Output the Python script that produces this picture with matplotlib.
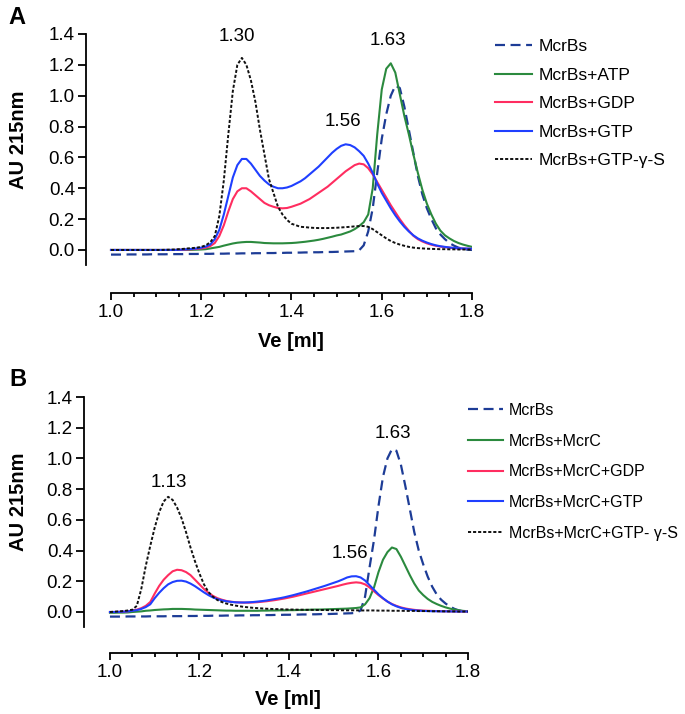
import numpy as np
import matplotlib
matplotlib.use("Agg")
import matplotlib.pyplot as plt
from matplotlib.ticker import FixedLocator, FormatStrFormatter

plt.rcParams['font.family'] = ['Liberation Sans', 'DejaVu Sans']

# elution volume grid (ml), step 0.01 from 1.00 to 1.80
ve = np.round(np.arange(1.00, 1.805, 0.01), 2)

# ---- panel A ----
a_mcrbs = [-0.030, -0.030, -0.030, -0.030, -0.029, -0.029, -0.029, -0.029, -0.029, -0.028,
           -0.028, -0.028, -0.028, -0.027, -0.027, -0.027, -0.027, -0.026, -0.026, -0.026,
           -0.025, -0.025, -0.025, -0.024, -0.024, -0.024, -0.023, -0.023, -0.023, -0.022,
           -0.022, -0.022, -0.021, -0.021, -0.020, -0.020, -0.020, -0.019, -0.019, -0.018,
           -0.018, -0.017, -0.017, -0.016, -0.016, -0.015, -0.015, -0.014, -0.013, -0.013,
           -0.012, -0.011, -0.010, -0.009, -0.008, -0.002, 0.030, 0.120, 0.270, 0.500,
           0.720, 0.880, 1.000, 1.065, 1.050, 0.930, 0.780, 0.630, 0.480, 0.360,
           0.270, 0.200, 0.140, 0.100, 0.070, 0.045, 0.028, 0.015, 0.007, 0.002,
           0.000]
a_atp = [0.000, 0.000, 0.000, 0.000, 0.000, 0.000, 0.000, 0.000, 0.000, 0.000,
         0.000, 0.000, 0.000, 0.000, 0.000, 0.000, 0.000, 0.000, 0.001, 0.002,
         0.003, 0.005, 0.010, 0.015, 0.020, 0.028, 0.035, 0.042, 0.047, 0.050,
         0.052, 0.052, 0.050, 0.048, 0.045, 0.044, 0.043, 0.043, 0.043, 0.044,
         0.045, 0.047, 0.050, 0.053, 0.057, 0.061, 0.066, 0.072, 0.079, 0.086,
         0.094, 0.100, 0.110, 0.120, 0.135, 0.155, 0.180, 0.230, 0.400, 0.750,
         1.040, 1.175, 1.210, 1.150, 1.010, 0.870, 0.750, 0.620, 0.500, 0.390,
         0.300, 0.230, 0.170, 0.125, 0.095, 0.075, 0.058, 0.045, 0.035, 0.027,
         0.020]
a_gdp = [0.000, 0.000, 0.000, 0.000, 0.000, 0.000, 0.000, 0.000, 0.000, 0.000,
         0.000, 0.000, 0.000, 0.000, 0.000, 0.001, 0.002, 0.003, 0.005, 0.007,
         0.010, 0.015, 0.025, 0.045, 0.090, 0.160, 0.250, 0.330, 0.380, 0.400,
         0.400, 0.380, 0.355, 0.330, 0.305, 0.290, 0.280, 0.272, 0.270, 0.272,
         0.280, 0.290, 0.300, 0.315, 0.330, 0.350, 0.370, 0.390, 0.410, 0.435,
         0.460, 0.485, 0.510, 0.530, 0.550, 0.560, 0.555, 0.530, 0.490, 0.440,
         0.390, 0.340, 0.290, 0.245, 0.200, 0.160, 0.125, 0.092, 0.070, 0.055,
         0.043, 0.034, 0.027, 0.022, 0.018, 0.015, 0.012, 0.010, 0.009, 0.008,
         0.007]
a_gtp = [0.000, 0.000, 0.000, 0.000, 0.000, 0.000, 0.000, 0.000, 0.000, 0.000,
         0.000, 0.000, 0.000, 0.000, 0.000, 0.001, 0.003, 0.005, 0.007, 0.010,
         0.015, 0.022, 0.035, 0.070, 0.130, 0.230, 0.350, 0.470, 0.550, 0.590,
         0.590, 0.560, 0.520, 0.480, 0.450, 0.425, 0.410, 0.400, 0.400, 0.405,
         0.415, 0.430, 0.445, 0.465, 0.490, 0.515, 0.540, 0.570, 0.600, 0.630,
         0.655, 0.675, 0.685, 0.680, 0.665, 0.640, 0.610, 0.560, 0.500, 0.430,
         0.370, 0.320, 0.270, 0.225, 0.185, 0.150, 0.120, 0.095, 0.075, 0.060,
         0.048, 0.038, 0.030, 0.024, 0.020, 0.016, 0.013, 0.011, 0.010, 0.009,
         0.008]
a_gtpgs = [0.000, 0.000, 0.000, 0.000, 0.000, 0.000, 0.000, 0.000, 0.000, 0.000,
           0.000, 0.000, 0.001, 0.002, 0.003, 0.005, 0.007, 0.010, 0.012, 0.015,
           0.020, 0.030, 0.050, 0.090, 0.220, 0.450, 0.750, 1.030, 1.200, 1.245,
           1.200, 1.100, 0.960, 0.780, 0.620, 0.460, 0.370, 0.280, 0.230, 0.195,
           0.170, 0.160, 0.150, 0.148, 0.145, 0.143, 0.142, 0.142, 0.142, 0.143,
           0.144, 0.146, 0.148, 0.150, 0.153, 0.155, 0.155, 0.150, 0.135, 0.115,
           0.095, 0.075, 0.058, 0.045, 0.035, 0.027, 0.020, 0.015, 0.012, 0.010,
           0.008, 0.007, 0.006, 0.005, 0.005, 0.004, 0.004, 0.003, 0.003, 0.003,
           0.003]

# ---- panel B ----
b_mcrbs = [-0.030, -0.030, -0.030, -0.030, -0.029, -0.029, -0.029, -0.029, -0.029, -0.028,
           -0.028, -0.028, -0.028, -0.027, -0.027, -0.027, -0.027, -0.026, -0.026, -0.026,
           -0.025, -0.025, -0.025, -0.024, -0.024, -0.024, -0.023, -0.023, -0.023, -0.022,
           -0.022, -0.022, -0.021, -0.021, -0.020, -0.020, -0.020, -0.019, -0.019, -0.018,
           -0.018, -0.017, -0.017, -0.016, -0.016, -0.015, -0.015, -0.014, -0.013, -0.013,
           -0.012, -0.011, -0.010, -0.009, -0.008, -0.005, 0.010, 0.100, 0.290, 0.470,
           0.690, 0.880, 1.000, 1.060, 1.050, 0.960, 0.820, 0.670, 0.520, 0.400,
           0.310, 0.230, 0.165, 0.115, 0.080, 0.055, 0.035, 0.020, 0.010, 0.004,
           0.000]
b_mcrc = [-0.005, -0.005, -0.004, -0.004, -0.003, 0.000, 0.002, 0.004, 0.008, 0.010,
          0.013, 0.015, 0.017, 0.018, 0.020, 0.020, 0.020, 0.019, 0.018, 0.016,
          0.015, 0.014, 0.013, 0.012, 0.011, 0.010, 0.009, 0.009, 0.008, 0.008,
          0.008, 0.008, 0.008, 0.008, 0.009, 0.009, 0.010, 0.010, 0.011, 0.011,
          0.012, 0.012, 0.013, 0.013, 0.014, 0.015, 0.016, 0.016, 0.017, 0.018,
          0.019, 0.020, 0.021, 0.022, 0.024, 0.026, 0.030, 0.050, 0.090, 0.160,
          0.260, 0.340, 0.390, 0.420, 0.410, 0.360, 0.300, 0.240, 0.185, 0.140,
          0.110, 0.085, 0.066, 0.052, 0.040, 0.030, 0.022, 0.016, 0.011, 0.007,
          0.005]
b_gdp = [0.000, 0.000, 0.001, 0.002, 0.004, 0.010, 0.015, 0.025, 0.040, 0.065,
         0.120, 0.170, 0.210, 0.240, 0.265, 0.275, 0.272, 0.260, 0.240, 0.210,
         0.180, 0.150, 0.125, 0.105, 0.090, 0.080, 0.072, 0.067, 0.064, 0.062,
         0.061, 0.061, 0.062, 0.064, 0.067, 0.070, 0.074, 0.078, 0.083, 0.088,
         0.094, 0.100, 0.107, 0.114, 0.121, 0.128, 0.135, 0.142, 0.149, 0.156,
         0.163, 0.170, 0.178, 0.185, 0.190, 0.193, 0.190, 0.180, 0.160, 0.135,
         0.110, 0.088, 0.068, 0.052, 0.040, 0.030, 0.023, 0.018, 0.014, 0.011,
         0.009, 0.008, 0.007, 0.006, 0.005, 0.005, 0.004, 0.004, 0.003, 0.003,
         0.003]
b_gtp = [0.000, 0.000, 0.001, 0.002, 0.004, 0.008, 0.012, 0.020, 0.032, 0.050,
         0.090, 0.125, 0.155, 0.180, 0.195, 0.203, 0.204, 0.198, 0.185, 0.168,
         0.148, 0.128, 0.110, 0.095, 0.084, 0.076, 0.070, 0.066, 0.063, 0.062,
         0.062, 0.063, 0.065, 0.068, 0.071, 0.075, 0.080, 0.085, 0.090, 0.096,
         0.103, 0.110, 0.118, 0.126, 0.134, 0.143, 0.152, 0.161, 0.170, 0.180,
         0.190, 0.200, 0.212, 0.225, 0.232, 0.233, 0.225, 0.205, 0.175, 0.145,
         0.115, 0.090, 0.068, 0.050, 0.037, 0.027, 0.020, 0.015, 0.011, 0.009,
         0.007, 0.006, 0.005, 0.005, 0.004, 0.004, 0.004, 0.003, 0.003, 0.003,
         0.003]
b_gtpgs = [0.000, 0.002, 0.004, 0.006, 0.010, 0.015, 0.040, 0.150, 0.300, 0.430,
           0.550, 0.650, 0.720, 0.750, 0.730, 0.680, 0.610, 0.520, 0.420, 0.330,
           0.250, 0.180, 0.130, 0.100, 0.078, 0.065, 0.055, 0.048, 0.042, 0.037,
           0.033, 0.030, 0.027, 0.025, 0.023, 0.021, 0.020, 0.019, 0.018, 0.017,
           0.016, 0.016, 0.015, 0.015, 0.014, 0.014, 0.013, 0.013, 0.013, 0.012,
           0.012, 0.012, 0.011, 0.011, 0.011, 0.011, 0.010, 0.010, 0.010, 0.010,
           0.009, 0.009, 0.009, 0.008, 0.008, 0.008, 0.007, 0.007, 0.007, 0.006,
           0.006, 0.006, 0.005, 0.005, 0.005, 0.004, 0.004, 0.004, 0.003, 0.003,
           0.003]

labels_a = ["McrBs", "McrBs+ATP", "McrBs+GDP", "McrBs+GTP", "McrBs+GTP-\u03b3-S"]
labels_b = ["McrBs", "McrBs+McrC", "McrBs+McrC+GDP", "McrBs+McrC+GTP",
            "McrBs+McrC+GTP- \u03b3-S"]
peaks_a = ["1.30", "1.63", "1.56"]
peaks_b = ["1.13", "1.63", "1.56"]

# line styles for the five traces (same order in both panels)
styles = [
    dict(color="#1d3c96", lw=1.6, dashes=(4.5, 2.5)),
    dict(color="#2b8a3e", lw=1.5),
    dict(color="#ff2d60", lw=1.5),
    dict(color="#1f3fff", lw=1.5),
    dict(color="#111111", lw=1.4, dashes=(1.6, 1.0)),
]

W, H = 685, 714
fig = plt.figure(figsize=(W / 100, H / 100), dpi=100)


def panel(rect, xleft, ybottom, series, labels, peaks, peak_xy, letter, letter_xy,
          leg_xy, leg_size, leg_spacing, handle_len, ylab_x, xlab_y):
    ax = fig.add_axes(rect)
    lines = []
    for ys, st, lab in zip(series, styles, labels):
        ln, = ax.plot(ve, ys, label=lab, **st)
        lines.append(ln)
    ax.set_xlim(xleft, 1.8)
    ax.set_ylim(ybottom, 1.4)
    for s in ["top", "right"]:
        ax.spines[s].set_visible(False)
    ax.spines["left"].set_bounds(-0.1, 1.4)
    ax.spines["bottom"].set_bounds(1.0, 1.8)
    ax.spines["left"].set_linewidth(1.3)
    ax.spines["bottom"].set_linewidth(1.3)
    ax.set_yticks(np.arange(0, 1.41, 0.2))
    ax.yaxis.set_major_formatter(FormatStrFormatter("%.1f"))
    ax.set_xticks(np.arange(1.0, 1.81, 0.2))
    ax.xaxis.set_major_formatter(FormatStrFormatter("%.1f"))
    ax.xaxis.set_minor_locator(FixedLocator(np.arange(1.05, 1.8, 0.05)))
    ax.tick_params(axis="y", direction="out", length=6, width=1.3, labelsize=13.5, pad=2)
    ax.tick_params(axis="x", which="major", direction="out", length=5, width=1.3,
                   labelsize=13.5, pad=3)
    ax.tick_params(axis="x", which="minor", direction="out", length=3, width=1.3)
    ax.set_ylabel("AU 215nm", fontsize=14.5, fontweight="bold")
    ax.yaxis.set_label_coords(ylab_x, 0.59)
    ax.set_xlabel("Ve [ml]", fontsize=14.5, fontweight="bold")
    ax.xaxis.set_label_coords(0.53, xlab_y)
    for txt, (px, py) in zip(peaks, peak_xy):
        ax.text(px, py, txt, fontsize=13.5, ha="center", va="center")
    fig.text(letter_xy[0] / W, 1 - letter_xy[1] / H, letter, fontsize=17,
             fontweight="bold", ha="center", va="center")
    fig.legend(handles=lines, loc="upper left",
               bbox_to_anchor=(leg_xy[0] / W, 1 - leg_xy[1] / H),
               bbox_transform=fig.transFigure, frameon=False, fontsize=leg_size,
               borderpad=0, borderaxespad=0, handlelength=handle_len,
               handletextpad=0.35, labelspacing=leg_spacing)
    return ax


panel([86 / W, 1 - 293 / H, 386 / W, 259 / H], 0.9446, -0.279,
      [a_mcrbs, a_atp, a_gdp, a_gtp, a_gtpgs], labels_a, peaks_a,
      [(1.279, 1.387), (1.614, 1.361), (1.514, 0.83)], "A", (17, 17),
      (495, 39), 12.5, 0.77, 2.15, -0.150, -0.15)

panel([84 / W, 1 - 653 / H, 384 / W, 256 / H], 0.942, -0.267,
      [b_mcrbs, b_mcrc, b_gdp, b_gtp, b_gtpgs], labels_b, peaks_b,
      [(1.132, 0.846), (1.632, 1.165), (1.536, 0.378)], "B", (18, 380),
      (468, 403), 11.5, 0.98, 2.2, -0.146, -0.145)

fig.savefig("out.png", dpi=100)
